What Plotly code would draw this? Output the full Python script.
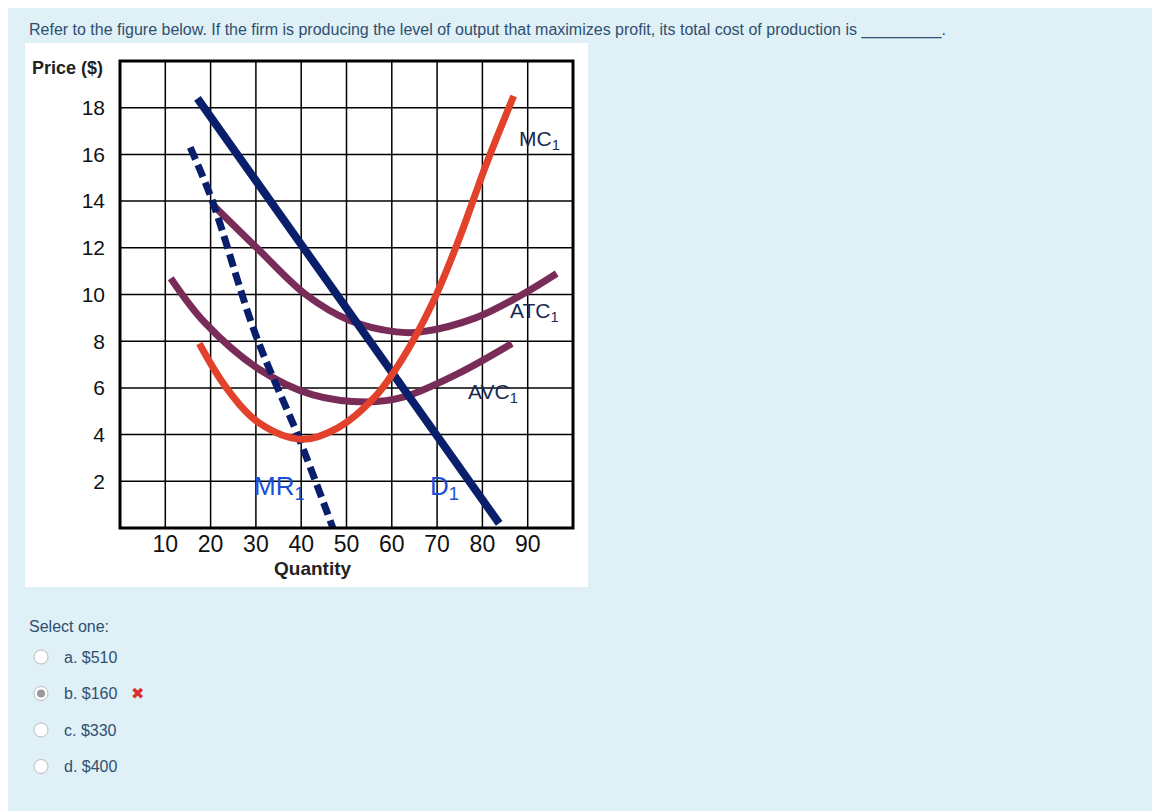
import plotly.graph_objects as go

W, H = 1160, 811
d_x = [17.1, 83.7]; d_y = [18.4, 0.2]
mr_x = [15.5, 20.3, 29.9, 39.4, 47.0]; mr_y = [16.3, 14.05, 8.3, 3.9, 0.0]
mc_x = [17.5, 23.5, 30.7, 40.2, 48.2, 56.2, 62.5, 68.9, 74.5, 80.9, 86.9]
mc_y = [7.9, 6.0, 4.5, 3.8, 4.3, 5.6, 7.3, 9.6, 12.2, 15.6, 18.5]
atc_x = [20.7, 30.7, 41.0, 50.6, 61.0, 66.5, 78.5, 88.8, 96.4]
atc_y = [13.8, 11.9, 10.0, 8.9, 8.4, 8.4, 9.0, 10.0, 10.9]
avc_x = [11.2, 18.7, 30.7, 42.6, 54.6, 62.5, 74.5, 86.5]
avc_y = [10.7, 8.8, 6.8, 5.7, 5.4, 5.6, 6.6, 7.9]
x_ticks = [10, 20, 30, 40, 50, 60, 70, 80, 90]
y_ticks = [2, 4, 6, 8, 10, 12, 14, 16, 18]
options = ["a. $510", "b. $160", "c. $330", "d. $400"]

OFF = 8
def px(v): return (v - OFF) / W
def py(v): return 1 - (v - OFF) / H

navy = "#0a1f6b"; purple = "#7a2c58"; red = "#e2412b"
fig = go.Figure()
fig.add_trace(go.Scatter(x=avc_x, y=avc_y, mode="lines", line=dict(color=purple, width=7, shape="spline")))
fig.add_trace(go.Scatter(x=atc_x, y=atc_y, mode="lines", line=dict(color=purple, width=7, shape="spline")))
fig.add_trace(go.Scatter(x=d_x, y=d_y, mode="lines", line=dict(color=navy, width=8)))
fig.add_trace(go.Scatter(x=mr_x, y=mr_y, mode="lines", line=dict(color=navy, width=7, dash="13px,6px", shape="spline")))
fig.add_trace(go.Scatter(x=mc_x, y=mc_y, mode="lines", line=dict(color=red, width=7, shape="spline")))

x0, x1 = px(120), px(573)
y0, y1 = py(528), py(61)
fig.update_layout(
    width=W, height=H, margin=dict(l=0, r=0, t=0, b=0), showlegend=False,
    paper_bgcolor="#dff0f7", plot_bgcolor="#fdf9c8",
    font=dict(family="Arial, Liberation Sans", color="#222"),
    xaxis=dict(domain=[x0, x1], range=[0, 100], tickvals=x_ticks, showgrid=False,
               ticks="", tickfont=dict(size=23, color="#111"), zeroline=False, ticklabelstandoff=0),
    yaxis=dict(domain=[y0, y1], range=[0, 20], tickvals=y_ticks, showgrid=False,
               ticks="", tickfont=dict(size=21, color="#111"), zeroline=False, ticklabelstandoff=14),
)
shapes = [dict(type="rect", xref="paper", yref="paper", x0=px(25), x1=px(588), y0=py(587), y1=py(43),
               fillcolor="white", line=dict(width=0), layer="below")]
for v in range(10, 100, 10):
    shapes.append(dict(type="line", xref="x", yref="paper", x0=v, x1=v, y0=y0, y1=y1, line=dict(color="black", width=1.5), layer="below"))
for v in range(2, 20, 2):
    shapes.append(dict(type="line", xref="paper", yref="y", x0=x0, x1=x1, y0=v, y1=v, line=dict(color="black", width=1.5), layer="below"))
shapes.append(dict(type="rect", xref="paper", yref="paper", x0=x0, x1=x1, y0=y0, y1=y1, line=dict(color="black", width=3)))
def pa(text, x, y, size, color="#2f4f6f", xanchor="left"):
    return dict(text=text, x=px(x), y=py(y), xref="paper", yref="paper", xanchor=xanchor, yanchor="middle",
                showarrow=False, font=dict(size=size, color=color))
ann = [
    pa("Refer to the figure below. If the firm is producing the level of output that maximizes profit, its total cost of production is _________.", 27, 30, 16),
    pa("<b>Price ($)</b>", 30, 68, 18, "#222"),
    pa("<b>Quantity</b>", 312, 568, 19, "#222", "center"),
    dict(text="MC<sub>1</sub>", x=92.7, y=16.6, showarrow=False, font=dict(size=21, color="#1a2a50")),
    dict(text="ATC<sub>1</sub>", x=91.6, y=9.25, showarrow=False, font=dict(size=21, color="#1a2a50")),
    dict(text="AVC<sub>1</sub>", x=82.3, y=5.8, showarrow=False, font=dict(size=21, color="#1a2a50")),
    dict(text="MR<sub>1</sub>", x=35.3, y=1.75, showarrow=False, font=dict(size=26, color="#1a4fd8")),
    dict(text="D<sub>1</sub>", x=71.7, y=1.75, showarrow=False, font=dict(size=26, color="#1a4fd8")),
    pa("Select one:", 27, 626, 16),
]
for i, o in enumerate(options):
    yy = 657 + i * 36.5
    ann.append(pa(o, 62, yy, 16))
    shapes.append(dict(type="circle", xref="paper", yref="paper", x0=px(34), x1=px(48), y0=py(yy + 7), y1=py(yy - 7),
                       fillcolor="white", line=dict(color="#bbbbbb", width=1)))
    if i == 1:
        shapes.append(dict(type="circle", xref="paper", yref="paper", x0=px(37), x1=px(45), y0=py(yy + 4), y1=py(yy - 4),
                           fillcolor="#999999", line=dict(width=0)))
        ann.append(pa("✖", 137, yy, 16, "#d9312b", "center"))
fig.update_layout(shapes=shapes, annotations=ann)
fig.write_html("out.html")
